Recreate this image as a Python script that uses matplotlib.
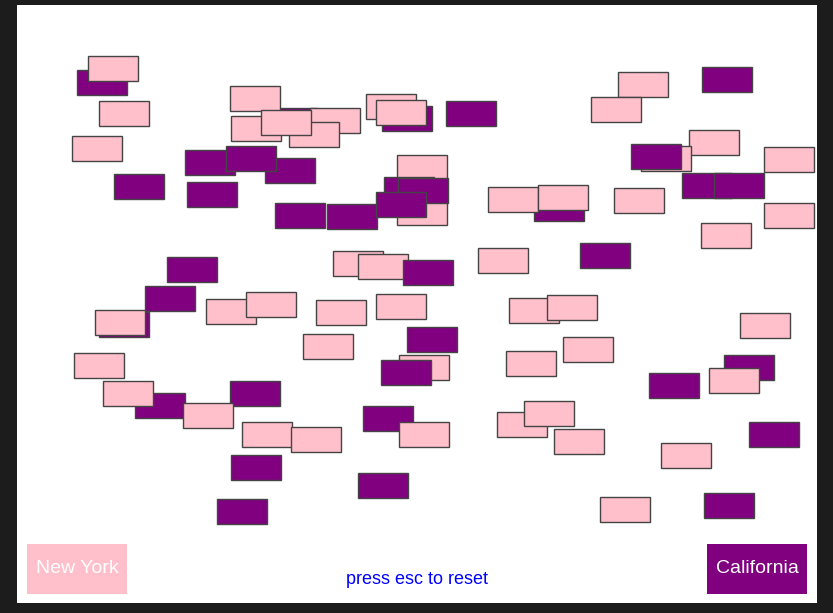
import matplotlib
matplotlib.use("Agg")
import matplotlib.pyplot as plt
from matplotlib.patches import Rectangle

# top-left corner of each box, in screen pixels
california_x = [77, 185, 114, 187, 226, 265, 267, 275, 327, 382, 446, 384, 398, 376, 403, 167, 145, 99,
                407, 381, 230, 135, 363, 231, 358, 217, 534, 580, 631, 682, 714, 702, 724, 649, 749, 704]
california_y = [70, 150, 174, 182, 146, 158, 108, 203, 204, 106, 101, 177, 178, 192, 260, 257, 286, 312,
                327, 360, 381, 393, 406, 455, 473, 499, 196, 243, 144, 173, 173, 67, 355, 373, 422, 493]
newyork_x = [88, 99, 72, 230, 231, 310, 289, 261, 366, 376, 397, 397, 488, 538, 614, 618, 591, 689, 641, 764,
             764, 701, 333, 358, 478, 206, 246, 316, 376, 95, 303, 509, 547, 740, 563, 74, 506, 399, 709, 103,
             183, 242, 291, 399, 497, 524, 554, 661, 600]
newyork_y = [56, 101, 136, 86, 116, 108, 122, 110, 94, 100, 155, 200, 187, 185, 188, 72, 97, 130, 146, 147,
             203, 223, 251, 254, 248, 299, 292, 300, 294, 310, 334, 298, 295, 313, 337, 353, 351, 355, 368, 381,
             403, 422, 427, 422, 412, 401, 429, 443, 497]
# California boxes that sit above the New York ones
california_on_top = [4, 11, 12, 13, 14, 19, 28, 30]

W, H = 50, 25
fig = plt.figure(figsize=(8.33, 6.13), dpi=100, facecolor="#1c1c1c")
ax = fig.add_axes([17 / 833, 10 / 613, 800 / 833, 598 / 613])
ax.set_xlim(17, 817)
ax.set_ylim(603, 5)
ax.axis("off")
ax.add_patch(Rectangle((17, 5), 800, 598, facecolor="white", edgecolor="none", zorder=0))

for i, (x, y) in enumerate(zip(california_x, california_y)):
    z = 4 if i in california_on_top else 2
    ax.add_patch(Rectangle((x, y), W, H, facecolor="#800080", edgecolor="#444444", lw=1, zorder=z))
for x, y in zip(newyork_x, newyork_y):
    ax.add_patch(Rectangle((x, y), W, H, facecolor="#ffc0cb", edgecolor="#444444", lw=1, zorder=3))

# legend boxes
ax.add_patch(Rectangle((27, 544), 100, 50, facecolor="#ffc0cb", edgecolor="none", zorder=5))
ax.text(77, 568, "New York", color="white", fontsize=14, ha="center", va="center",
        family="Liberation Sans", zorder=6)
ax.add_patch(Rectangle((707, 544), 100, 50, facecolor="#800080", edgecolor="none", zorder=5))
ax.text(757, 568, "California", color="white", fontsize=14, ha="center", va="center",
        family="Liberation Sans", zorder=6)
ax.text(417, 579, "press esc to reset", color="blue", fontsize=13, ha="center", va="center",
        family="Liberation Sans", zorder=6)

fig.savefig("out.png", dpi=100, facecolor=fig.get_facecolor())
